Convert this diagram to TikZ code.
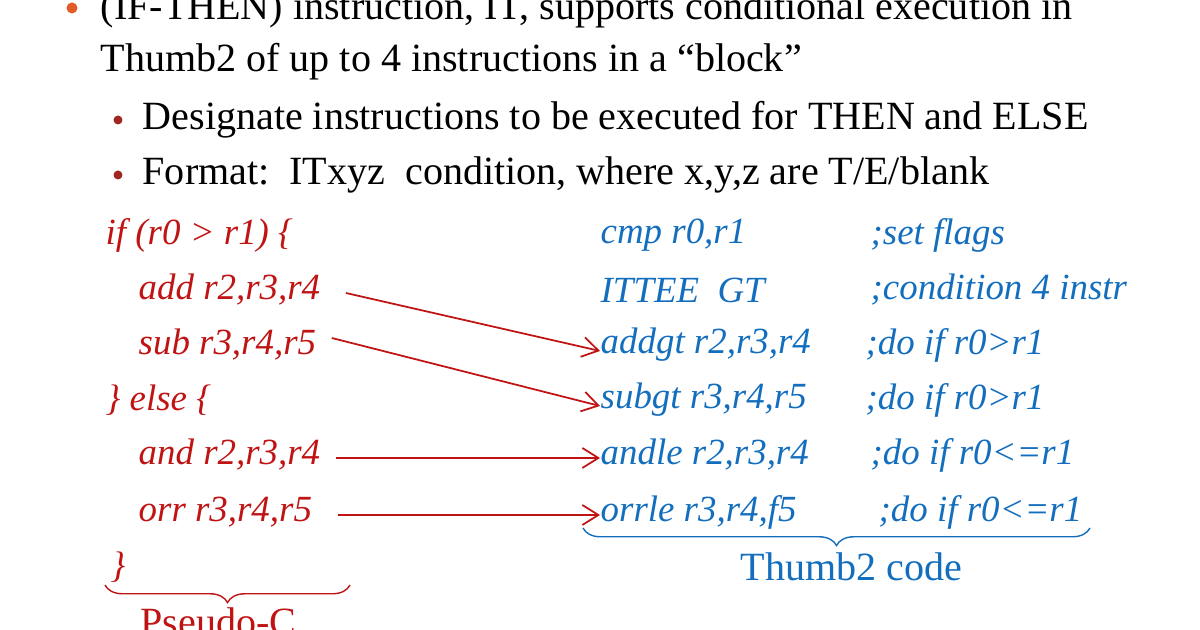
\documentclass[tikz,border=0pt]{standalone}
\usepackage{fontspec}
\setmainfont{Liberation Serif}
\usetikzlibrary{arrows.meta,decorations.pathreplacing}
\definecolor{slred}{RGB}{192,20,20}
\definecolor{slblue}{RGB}{20,110,190}
\definecolor{dotor}{RGB}{226,90,40}
\definecolor{dotred}{RGB}{160,40,35}
\tikzset{
  txt/.style={anchor=west, inner sep=0pt, font=\fontsize{11.4}{13}\selectfont},
  pc/.style={anchor=west, inner sep=0pt, text=slred, font=\fontsize{10.5}{12}\selectfont\itshape},
  tc/.style={anchor=west, inner sep=0pt, text=slblue, font=\fontsize{10.5}{12}\selectfont\itshape},
  map/.style={slred, line width=0.5pt, -{Straight Barb[length=1.6mm,width=2mm]}}
}
\begin{document}
\begin{tikzpicture}
\useasboundingbox (0,0) rectangle (12,6.3);
\clip (0,0) rectangle (12,6.3);
% bullets
\fill[dotor] (0.72,6.22) circle (0.055);
\node[txt] (l1) at (1.0,6.2) {(IF-THEN) instruction, IT, supports conditional execution in};
\node[txt] (l2) at (1.0,5.68) {Thumb2 of up to 4 instructions in a “block”};
\fill[dotred] (1.18,5.1) circle (0.045);
\node[txt] (s1) at (1.42,5.1) {Designate instructions to be executed for THEN and ELSE};
\fill[dotred] (1.18,4.55) circle (0.045);
\node[txt] (s2) at (1.42,4.55) {Format:\ \ ITxyz\ \ condition, where x,y,z are T/E/blank};
% pseudo-C
\node[pc] (pif) at (1.05,3.95) {if (r0 > r1) \{};
\node[pc] (padd) at (1.38,3.4) {add r2,r3,r4};
\node[pc] (psub) at (1.38,2.85) {sub r3,r4,r5};
\node[pc] (pelse) at (1.05,2.3) {\} else \{};
\node[pc] (pand) at (1.38,1.75) {and r2,r3,r4};
\node[pc] (porr) at (1.38,1.18) {orr r3,r4,r5};
\node[pc] (pend) at (1.1,0.63) {\}};
\draw[slred, decorate, decoration={brace, mirror, amplitude=5pt}] (1.05,0.45) -- (3.5,0.45);
\node[txt, text=slred] (plab) at (1.4,0.08) {Pseudo-C};
% Thumb2
\node[tc] (tcmp) at (6.0,3.95) {cmp r0,r1};
\node[tc] (tit) at (6.0,3.4) {ITTEE\ \ GT};
\node[tc] (tadd) at (6.0,2.85) {addgt r2,r3,r4};
\node[tc] (tsub) at (6.0,2.3) {subgt r3,r4,r5};
\node[tc] (tand) at (6.0,1.75) {andle r2,r3,r4};
\node[tc] (torr) at (6.0,1.18) {orrle r3,r4,f5};
\node[tc] (c1) at (8.7,3.95) {;set flags};
\node[tc] (c2) at (8.7,3.4) {;condition 4 instr};
\node[tc] (c3) at (8.65,2.85) {;do if r0>r1};
\node[tc] (c4) at (8.65,2.3) {;do if r0>r1};
\node[tc] (c5) at (8.7,1.75) {;do if r0<=r1};
\node[tc] (c6) at (8.78,1.18) {;do if r0<=r1};
\draw[slblue, decorate, decoration={brace, mirror, amplitude=5pt}] (5.83,1.02) -- (10.9,1.02);
\node[txt, text=slblue] (tlab) at (7.4,0.63) {Thumb2 code};
% arrows
\draw[map] ([xshift=2.5mm,yshift=-0.3mm]padd.east) -- ([yshift=-0.6mm]tadd.west);
\draw[map] ([xshift=1.5mm,yshift=0.7mm]psub.east) -- ([yshift=-0.6mm]tsub.west);
\draw[map] ([xshift=1.5mm,yshift=-0.3mm]pand.east) -- ([yshift=-0.3mm]tand.west);
\draw[map] ([xshift=2.5mm,yshift=-0.3mm]porr.east) -- ([yshift=-0.3mm]torr.west);
\end{tikzpicture}
\end{document}
